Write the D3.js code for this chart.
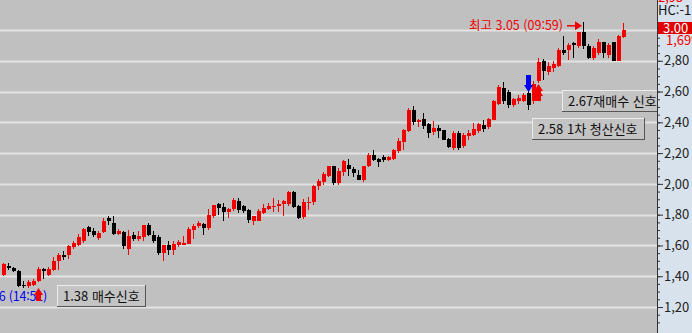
<!DOCTYPE html>
<html lang="ko">
<head>
<meta charset="utf-8">
<script src="https://d3js.org/d3.v7.min.js"></script>
<style>
body { margin: 0; background: #c0c0c0; }
svg { display: block; font-family: "Noto Sans CJK KR", "DejaVu Sans", sans-serif; }
</style>
</head>
<body>
<svg id="chart"></svg>
<script>
// candle values (one entry per bar)
var open  = [1.410,1.464,1.454,1.436,1.345,1.334,1.345,1.371,1.449,1.410,1.443,1.497,1.540,1.540,1.588,1.605,1.627,1.718,1.696,1.649,1.688,1.779,1.746,1.675,1.688,
             1.579,1.670,1.644,1.653,1.731,1.670,1.653,1.551,1.601,1.573,1.605,1.605,1.610,1.703,1.724,1.740,1.714,1.789,1.869,1.847,1.817,1.839,1.891,1.854,1.832,
             1.761,1.761,1.811,1.837,1.847,1.854,1.871,1.871,1.945,1.858,1.783,1.876,1.882,1.984,2.010,2.053,2.114,2.006,2.075,2.125,2.097,2.060,2.027,2.118,2.190,
             2.162,2.175,2.157,2.162,2.211,2.270,2.341,2.482,2.399,2.421,2.391,2.334,2.363,2.348,2.291,2.233,2.330,2.248,2.309,2.319,2.341,2.384,2.369,2.417,2.520,
             2.620,2.600,2.510,2.540,2.540,2.590,2.540,2.666,2.800,2.730,2.750,2.763,2.871,2.871,2.917,2.893,2.990,2.897,2.818,2.850,2.919,2.839,2.919,2.800,2.954];
var high  = [1.488,1.488,1.458,1.443,1.371,1.378,1.384,1.458,1.454,1.458,1.523,1.553,1.562,1.605,1.627,1.675,1.714,1.724,1.714,1.696,1.779,1.789,1.789,1.709,1.696,
             1.703,1.688,1.692,1.735,1.746,1.692,1.670,1.605,1.627,1.627,1.636,1.659,1.718,1.740,1.757,1.746,1.839,1.864,1.876,1.876,1.843,1.908,1.908,1.865,1.839,
             1.789,1.837,1.871,1.876,1.908,1.898,1.893,1.951,1.951,1.865,1.902,1.915,1.995,2.032,2.075,2.118,2.114,2.101,2.153,2.162,2.110,2.088,2.118,2.203,2.222,
             2.170,2.190,2.180,2.229,2.298,2.356,2.490,2.503,2.421,2.460,2.395,2.406,2.384,2.352,2.298,2.341,2.341,2.330,2.352,2.395,2.398,2.417,2.430,2.542,2.640,
             2.660,2.610,2.560,2.580,2.590,2.610,2.670,2.818,2.810,2.795,2.800,2.884,2.958,2.917,2.919,2.990,3.050,2.910,2.893,2.940,2.925,2.915,2.925,2.969,3.045];
var low   = [1.404,1.438,1.425,1.332,1.324,1.324,1.339,1.363,1.384,1.404,1.436,1.443,1.508,1.514,1.579,1.594,1.616,1.659,1.653,1.638,1.681,1.735,1.666,1.666,1.579,
             1.540,1.627,1.631,1.631,1.659,1.616,1.536,1.497,1.540,1.540,1.590,1.605,1.610,1.644,1.714,1.666,1.703,1.779,1.795,1.761,1.779,1.826,1.813,1.811,1.746,
             1.735,1.757,1.806,1.830,1.815,1.815,1.794,1.858,1.843,1.772,1.770,1.832,1.862,1.958,1.993,2.047,1.995,1.995,2.049,2.053,2.045,2.023,2.010,2.110,2.146,
             2.110,2.140,2.150,2.157,2.201,2.218,2.334,2.384,2.369,2.356,2.298,2.319,2.298,2.283,2.233,2.218,2.218,2.233,2.287,2.309,2.328,2.334,2.356,2.412,2.510,
             2.520,2.490,2.500,2.520,2.530,2.480,2.520,2.655,2.677,2.710,2.730,2.757,2.840,2.806,2.820,2.880,2.876,2.810,2.806,2.840,2.818,2.818,2.796,2.800,2.947];
var close = [1.482,1.454,1.432,1.339,1.334,1.363,1.371,1.449,1.432,1.449,1.501,1.540,1.523,1.594,1.616,1.653,1.709,1.688,1.666,1.681,1.761,1.761,1.675,1.696,1.594,
             1.664,1.644,1.659,1.731,1.666,1.631,1.551,1.601,1.573,1.610,1.623,1.618,1.709,1.724,1.746,1.714,1.800,1.860,1.843,1.817,1.839,1.897,1.833,1.826,1.768,
             1.789,1.822,1.844,1.854,1.854,1.871,1.886,1.945,1.850,1.779,1.880,1.882,1.988,2.016,2.066,2.114,2.006,2.081,2.146,2.097,2.071,2.027,2.114,2.190,2.157,
             2.140,2.157,2.172,2.222,2.276,2.352,2.477,2.399,2.412,2.378,2.330,2.363,2.341,2.287,2.240,2.330,2.233,2.319,2.330,2.356,2.391,2.356,2.421,2.536,2.630,
             2.540,2.510,2.550,2.560,2.580,2.510,2.650,2.795,2.735,2.768,2.780,2.871,2.850,2.904,2.904,2.990,2.893,2.818,2.882,2.925,2.850,2.904,2.800,2.962,3.000];

var majorTicks = [1.20,1.40,1.60,1.80,2.00,2.20,2.40,2.60,2.80,3.00];
var lastPrice = 3.00, lastChange = "1,69%";

var width = 692, height = 333, plotRight = 657;

var svg = d3.select("#chart").attr("width", width).attr("height", height);

var x = d3.scaleLinear().domain([0, open.length - 1]).range([3, 623]);
var y = d3.scaleLinear().domain([1.20, 3.00]).range([307, 30]);

// plot background + grid
svg.append("rect").attr("width", plotRight).attr("height", height).attr("fill", "#c0c0c0");
svg.append("g").selectAll("line").data(majorTicks).join("line")
  .attr("x1", 0).attr("x2", plotRight)
  .attr("y1", d => Math.round(y(d)) + 0.5).attr("y2", d => Math.round(y(d)) + 0.5)
  .attr("stroke", "#e2e2e2").attr("stroke-width", 2);

// candles
var bars = d3.range(open.length);
var g = svg.append("g").attr("shape-rendering", "crispEdges");
g.selectAll("line").data(bars).join("line")
  .attr("x1", i => Math.round(x(i)) + 0.5).attr("x2", i => Math.round(x(i)) + 0.5)
  .attr("y1", i => y(high[i])).attr("y2", i => y(low[i]))
  .attr("stroke", i => close[i] >= open[i] ? "#f00000" : "#000");
g.selectAll("rect").data(bars).join("rect")
  .attr("x", i => Math.round(x(i)) - 1).attr("width", 4)
  .attr("y", i => y(Math.max(open[i], close[i])))
  .attr("height", i => Math.max(1, Math.abs(y(open[i]) - y(close[i]))))
  .attr("fill", i => close[i] >= open[i] ? "#f00000" : "#000");

// signal arrows
function arrow(cx, tipY, dir, color, len) {
  var s = dir; // 1 = up (tip on top), -1 = down
  var p = [[cx, tipY], [cx + 4.5, tipY + 7 * s], [cx + 2.5, tipY + 7 * s], [cx + 2.5, tipY + len * s],
           [cx - 2.5, tipY + len * s], [cx - 2.5, tipY + 7 * s], [cx - 4.5, tipY + 7 * s]];
  svg.append("polygon").attr("points", p.map(d => d.join(",")).join(" ")).attr("fill", color);
}

// high marker
var hi = 116;
svg.append("text").attr("x", 563).attr("y", y(high[hi]) + 8).attr("text-anchor", "end")
  .attr("font-size", 12.5).attr("fill", "#f00000").text("최고 3.05 (09:59)");
svg.append("line").attr("x1", 567).attr("x2", x(hi) - 6).attr("y1", y(high[hi]) + 3.5).attr("y2", y(high[hi]) + 3.5)
  .attr("stroke", "#f00000").attr("stroke-width", 1.5);
svg.append("polygon").attr("fill", "#f00000")
  .attr("points", [[x(hi) - 1, y(high[hi]) + 3.5], [x(hi) - 8, y(high[hi]) - 1], [x(hi) - 8, y(high[hi]) + 8]].map(d => d.join(",")).join(" "));

// low marker (cut off at the left edge)
svg.append("text").attr("x", 47).attr("y", 301).attr("text-anchor", "end")
  .attr("font-size", 12.5).attr("letter-spacing", -0.2).attr("fill", "#0000f0").text("최저 1.326 (14:51)");

arrow(x(7) + 0.5, y(low[7]) + 6, 1, "#f00000", 13);
arrow(x(105) + 0.5, y(high[105]) + 2, -1, "#0000f0", 17);
arrow(x(107) + 0.5, y(low[107]) + 1, 1, "#f00000", 17);
arrow(x(107) + 0.5, y(low[107]) + 6, 1, "#f00000", 12);

// signal boxes
function box(x0, y0, w, h, label) {
  var b = svg.append("g").attr("shape-rendering", "crispEdges");
  b.append("rect").attr("x", x0).attr("y", y0).attr("width", w).attr("height", h).attr("fill", "#c4c4c4");
  b.append("path").attr("d", `M${x0 + 0.5},${y0 + h}V${y0 + 0.5}H${x0 + w}`).attr("fill", "none").attr("stroke", "#ececec");
  b.append("path").attr("d", `M${x0},${y0 + h - 0.5}H${x0 + w - 0.5}V${y0}`).attr("fill", "none").attr("stroke", "#555").attr("stroke-width", 1.5);
  b.append("text").attr("x", x0 + 6).attr("y", y0 + h / 2 + 5).attr("font-size", 13).attr("fill", "#111").text(label);
}
box(57, 285, 89, 22, "1.38 매수신호");
box(532, 118, 113, 22, "2.58 1차 청산신호");
box(562, 90, 100, 22, "2.67재매수 신호");

// right price axis
svg.append("rect").attr("x", plotRight).attr("width", width - plotRight).attr("height", height).attr("fill", "#d8e2ec");
var minor = d3.range(1.10, 3.051, 0.05);
svg.append("g").attr("transform", `translate(${plotRight},0)`)
  .call(d3.axisRight(y).tickValues(minor).tickSize(3).tickFormat(""))
  .call(a => a.select(".domain").remove())
  .selectAll("line").attr("stroke", "#333");
svg.append("g").attr("transform", `translate(${plotRight},0)`)
  .call(d3.axisRight(y).tickValues(majorTicks.slice(0, -1)).tickSize(6).tickPadding(1)
    .tickFormat(d => d3.format(".2f")(d).replace(".", ",")))
  .call(a => a.select(".domain").remove())
  .call(a => a.selectAll("line").attr("stroke", "#333"))
  .call(a => a.selectAll("text").attr("font-size", 13).attr("fill", "#222")
    .attr("font-family", "\"Noto Sans CJK KR\", sans-serif"));
svg.append("line").attr("x1", plotRight + 0.5).attr("x2", plotRight + 0.5).attr("y1", 0).attr("y2", height)
  .attr("stroke", "#333");

svg.append("text").attr("x", 658).attr("y", 2).attr("font-size", 13).attr("fill", "#f00000").text("2,95");
svg.append("text").attr("x", 658).attr("y", 15).attr("font-size", 13).attr("fill", "#111").text("HC:-1");
svg.append("rect").attr("x", 658).attr("y", y(lastPrice) - 8).attr("width", 34).attr("height", 12).attr("fill", "#e00000");
svg.append("text").attr("x", 663).attr("y", y(lastPrice) + 3).attr("font-size", 13).attr("fill", "#fff").text(d3.format(".2f")(lastPrice));
svg.append("text").attr("x", 666).attr("y", y(lastPrice) + 15).attr("font-size", 13).attr("fill", "#f00000").text(lastChange);
</script>
</body>
</html>
